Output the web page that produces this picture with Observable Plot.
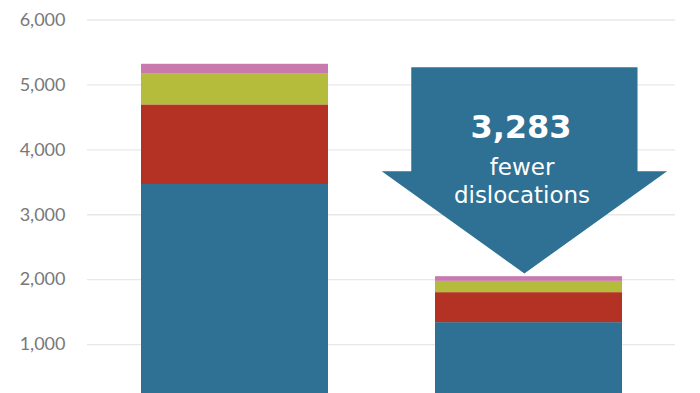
<!DOCTYPE html>
<html><head><meta charset="utf-8">
<script src="https://cdn.jsdelivr.net/npm/d3@7"></script>
<script src="https://cdn.jsdelivr.net/npm/@observablehq/plot@0.6"></script>
<style>html,body{margin:0;padding:0;background:#fff;overflow:hidden;}</style>
</head><body><div id="chart"></div>
<script>
// ---- data ----
const periods = ["Before", "After"];
const segments = ["Segment 1", "Segment 2", "Segment 3", "Segment 4"];
const segment1 = [3466, 1338];
const segment2 = [1226, 462];
const segment3 = [473, 174];
const segment4 = [153, 72];
const segmentColors = ["#2f7194", "#b33224", "#b5bb3b", "#c87aaf"];
const yTicks = [1000, 2000, 3000, 4000, 5000, 6000];
const annotationValue = "3,283";
const annotationLabel = "fewer\ndislocations";
// arrow extent in data units (y) for the "After" bar
const arrowTop = 5266, arrowHeadBase = 3662, arrowTip = 2088;

const seriesValues = [segment1, segment2, segment3, segment4];
const rows = [];
periods.forEach((p, i) => segments.forEach((s, j) => rows.push({period: p, segment: s, value: seriesValues[j][i]})));

function arrowMark(index, scales) {
  const x = scales.x, y = scales.y;
  const bw = x.bandwidth ? x.bandwidth() : 186;
  const cx = x(periods[1]) + bw / 2 - 0.022 * bw;
  const sw = 0.605 * bw, hw = 0.763 * bw;
  const pts = [
    [cx - sw, y(arrowTop)], [cx + sw, y(arrowTop)], [cx + sw, y(arrowHeadBase)],
    [cx + hw, y(arrowHeadBase)], [cx, y(arrowTip)], [cx - hw, y(arrowHeadBase)],
    [cx - sw, y(arrowHeadBase)]
  ];
  return d3.create("svg:path")
    .attr("d", "M" + pts.map(p => p.join(",")).join("L") + "Z")
    .attr("fill", segmentColors[0]).node();
}

const chart = Plot.plot({
  width: 700,
  height: 430,
  marginTop: 19.5,
  marginBottom: 21,
  marginLeft: 87,
  marginRight: 25,
  style: {fontFamily: "Lato", background: "#fff"},
  x: {domain: periods, paddingInner: 0.364, paddingOuter: 0.18, axis: null},
  y: {domain: [0, 6000], ticks: yTicks, tickFormat: d3.format(","), tickSize: 0, tickPadding: 22, label: null},
  color: {domain: segments, range: segmentColors},
  marks: [
    Plot.ruleY(yTicks, {stroke: "#e8e8e8", strokeWidth: 1.3}),
    Plot.axisY({ticks: yTicks, tickFormat: d3.format(","), tickSize: 0, tickPadding: 22, fontSize: 18, fill: "#787878", label: null}),
    Plot.barY(rows, {x: "period", y: "value", fill: "segment", order: segments}),
    arrowMark,
    Plot.text([{period: periods[1], y: 4340, t: annotationValue}], {
      x: "period", y: "y", text: "t", fill: "white", fontSize: 32, fontWeight: "bold",
      fontFamily: "DejaVu Sans", dx: -8, style: "letter-spacing:2px"
    }),
    Plot.text([{period: periods[1], y: 3529, t: annotationLabel}], {
      x: "period", y: "y", text: "t", fill: "white", fontSize: 23, lineHeight: 1.2,
      fontFamily: "DejaVu Sans", dx: -7, style: "letter-spacing:1px"
    })
  ]
});
document.getElementById("chart").appendChild(chart);
</script></body></html>
